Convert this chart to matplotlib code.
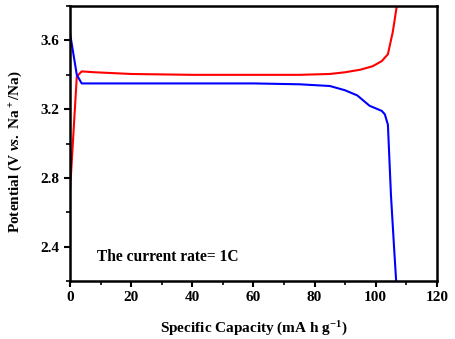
import matplotlib
matplotlib.use("Agg")
import matplotlib.pyplot as plt
from matplotlib.ticker import MultipleLocator

plt.rcParams.update({
    "font.family": "Liberation Serif",
    "font.weight": "bold",
    "mathtext.fontset": "custom",
    "mathtext.rm": "Liberation Serif:bold",
    "mathtext.it": "Liberation Serif:italic:bold",
    "mathtext.bf": "Liberation Serif:bold",
})

# charge curve (red)
charge_cap = [0, 2.2, 3.8, 8, 20, 40, 60, 75, 85, 90, 95, 99, 102, 104, 105.6, 106.9]
charge_v = [2.73, 3.39, 3.42, 3.415, 3.405, 3.40, 3.40, 3.40, 3.405, 3.415, 3.43, 3.45, 3.48, 3.52, 3.65, 3.8]

# discharge curve (blue)
dis_cap = [0, 2.2, 3.8, 20, 60, 75, 85, 90, 94, 96, 98, 100, 102, 103, 104, 105, 106, 106.7]
dis_v = [3.64, 3.40, 3.35, 3.35, 3.35, 3.345, 3.335, 3.31, 3.28, 3.25, 3.22, 3.205, 3.19, 3.17, 3.11, 2.7, 2.4, 2.2]

fig = plt.figure(figsize=(4.55, 3.39), dpi=100)
ax = fig.add_axes([0.154, 0.171, 0.806, 0.811])

ax.plot(charge_cap, charge_v, color="#ff0000", lw=1.5)
ax.plot(dis_cap, dis_v, color="#0000ff", lw=1.5)

ax.set_xlim(0, 120)
ax.set_ylim(2.2, 3.8)
ax.xaxis.set_major_locator(MultipleLocator(20))
ax.xaxis.set_minor_locator(MultipleLocator(10))
ax.yaxis.set_major_locator(MultipleLocator(0.4))
ax.yaxis.set_minor_locator(MultipleLocator(0.2))
ax.tick_params(which="major", direction="out", length=4, width=1.5, labelsize=11)
ax.tick_params(which="minor", direction="out", length=3, width=1.2)
for s in ax.spines.values():
    s.set_linewidth(1.8)

ax.set_xlabel(r"Specific Capacity (mA h g$^{-1}$)", fontsize=11, fontweight="bold", labelpad=11)
ax.set_ylabel(r"Potential (V $\it{vs.}$ Na$^+$/Na)", fontsize=11, fontweight="bold")
ax.yaxis.set_label_coords(-0.125, 0.47)

ax.text(0.074, 0.087, "The current rate= 1C", transform=ax.transAxes,
        fontsize=11.2, fontweight="bold", va="center")

fig.savefig("out.png", dpi=100)
